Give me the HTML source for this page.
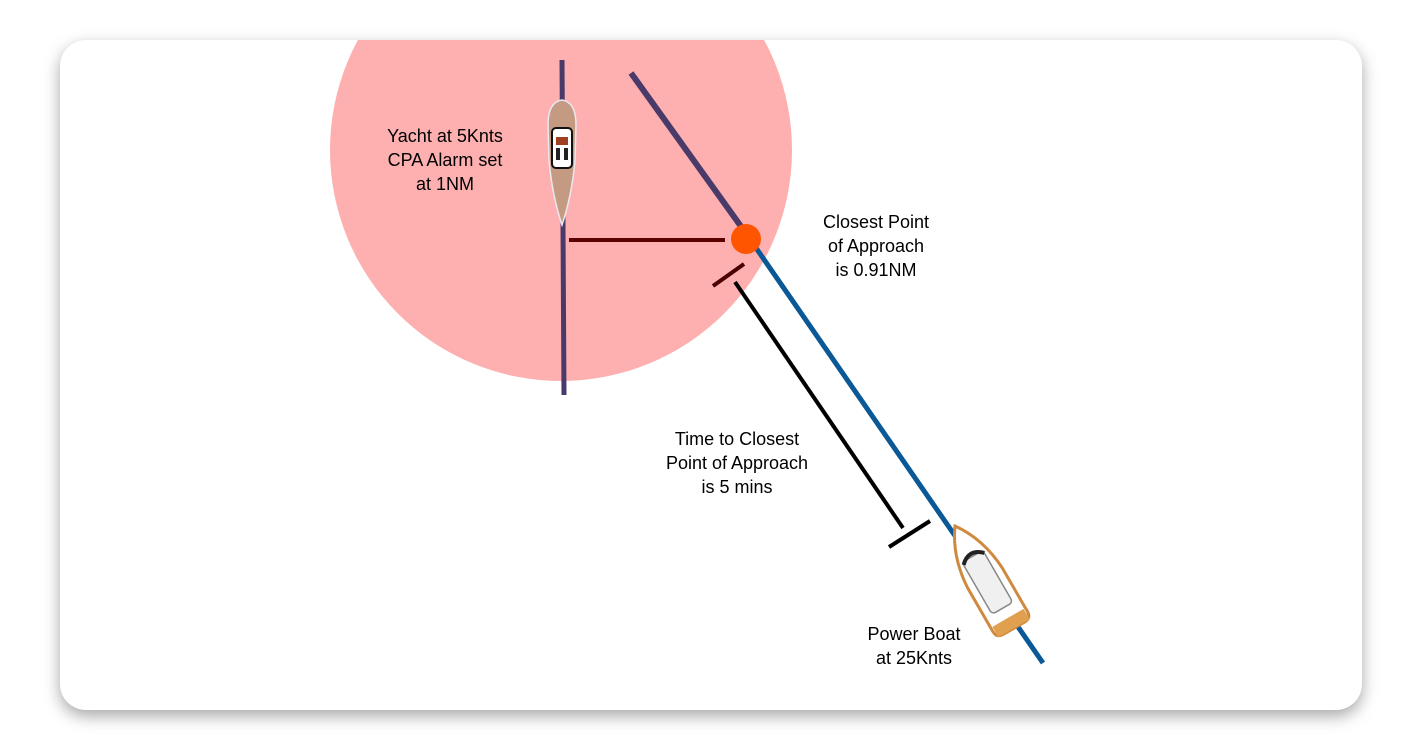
<!DOCTYPE html>
<html><head><style>
html,body{margin:0;padding:0;background:#fff;}
body{width:1422px;height:750px;position:relative;overflow:hidden;font-family:"Liberation Sans",sans-serif;}
.card{position:absolute;left:60px;top:40px;width:1302px;height:670px;background:#fff;border-radius:26px;box-shadow:0 6px 16px rgba(0,0,0,0.35);overflow:hidden;}
</style></head><body>
<div class="card"></div>
<svg width="1422" height="750" style="position:absolute;left:0;top:0">
<defs><clipPath id="c"><rect x="60" y="40" width="1302" height="670" rx="26"/></clipPath></defs>
<g clip-path="url(#c)">
<circle cx="561" cy="150" r="231" fill="#feb0b0"/>
</g>
<line x1="562" y1="60" x2="564" y2="395" stroke="#4a3a6a" stroke-width="5"/>
<line x1="631" y1="73" x2="745" y2="232" stroke="#4a3a6a" stroke-width="6"/>
<line x1="745" y1="232" x2="1043" y2="663" stroke="#0a5896" stroke-width="5"/>
<line x1="569" y1="240" x2="725" y2="240" stroke="#5a0000" stroke-width="4"/>
<circle cx="746" cy="239" r="15" fill="#ff5500"/>
<line x1="713" y1="286" x2="744" y2="264" stroke="#4a0000" stroke-width="4"/>
<line x1="735" y1="282" x2="903" y2="528" stroke="#000" stroke-width="4"/>
<line x1="889" y1="547" x2="930" y2="521" stroke="#000" stroke-width="4"/>
<!-- yacht -->
<g>
<path d="M562 100 Q548 102 548 125 L549 160 Q552 195 562 225 Q572 195 575 160 L576 125 Q576 102 562 100Z" fill="#c49a82" stroke="#e8e8f0" stroke-width="1.5"/>
<rect x="552" y="128" width="20" height="40" rx="4" fill="#fff" stroke="#111" stroke-width="2"/>
<rect x="556" y="148" width="4" height="12" fill="#222"/><rect x="564" y="148" width="4" height="12" fill="#222"/>
<rect x="556" y="137" width="12" height="8" fill="#a04020"/>
</g>
<!-- power boat -->
<g transform="translate(985,578) rotate(-30)">
<path d="M0 -60 Q-18 -35 -20 0 L-20 50 Q-20 58 -12 58 L12 58 Q20 58 20 50 L20 0 Q18 -35 0 -60Z" fill="#fff" stroke="#d08a40" stroke-width="3"/>
<rect x="-18" y="46" width="36" height="12" fill="#e0a050"/>
<rect x="-12" y="-25" width="24" height="60" rx="4" fill="#f0f0f0" stroke="#888" stroke-width="1.5"/>
<path d="M-12 -22 Q0 -34 12 -22" fill="none" stroke="#222" stroke-width="4"/>
</g>
<g font-size="18" fill="#000" text-anchor="middle">
<text x="445" y="142">Yacht at 5Knts</text>
<text x="445" y="166">CPA Alarm set</text>
<text x="445" y="190">at 1NM</text>
<text x="876" y="228">Closest Point</text>
<text x="876" y="252">of Approach</text>
<text x="876" y="276">is 0.91NM</text>
<text x="737" y="445">Time to Closest</text>
<text x="737" y="469">Point of Approach</text>
<text x="737" y="493">is 5 mins</text>
<text x="914" y="640">Power Boat</text>
<text x="914" y="664">at 25Knts</text>
</g>
</svg>
</body></html>
